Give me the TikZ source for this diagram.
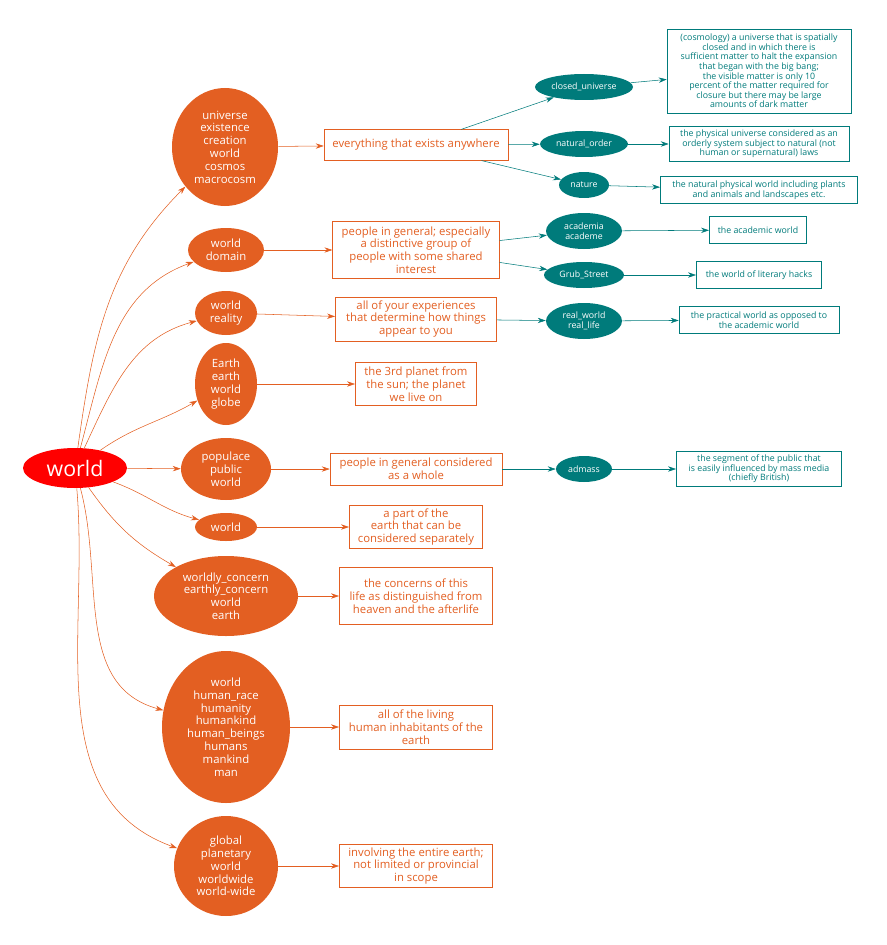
\documentclass[tikz,border=0pt]{standalone}
\usepackage{fontspec}
\setmainfont{Open Sans}
\usetikzlibrary{shapes.geometric,arrows.meta}
\definecolor{org}{HTML}{E35F22}
\definecolor{tl}{HTML}{007B7B}
\tikzset{
 syn/.style={ellipse,fill=org,text=white,inner sep=0pt,align=center,font=\fontsize{8.5}{9.6}\selectfont},
 gl/.style={draw=org,fill=white,text=org,align=center,inner sep=0pt,font=\fontsize{8.5}{9.6}\selectfont},
 ts/.style={ellipse,fill=tl,text=white,inner sep=0pt,align=center,font=\fontsize{6.6}{7.6}\selectfont},
 tb/.style={draw=tl,fill=white,text=tl,align=center,inner sep=0pt,font=\fontsize{6.6}{7.2}\selectfont},
 oe/.style={draw=org,-{Stealth[length=6pt,width=4pt]}},
 te/.style={draw=tl,-{Stealth[length=6pt,width=4pt]}},
}
\begin{document}
\begin{tikzpicture}[x=0.75pt,y=-0.75pt]
\useasboundingbox (0,0) rectangle (886,945);
\newcommand\E[5]{\node[#1,minimum width=#3*0.75pt,minimum height=#4*0.75pt] (#2) at #5}
\node[ellipse,fill=red,text=white,minimum width=78pt,minimum height=30pt,inner sep=0pt,font=\fontsize{16}{18}\selectfont] (w) at (75,468) {world};
\E{syn}{s1}{106}{118}{(225,147)} {universe\\existence\\creation\\world\\cosmos\\macrocosm};
\E{syn}{s2}{76}{44}{(226,250)} {world\\domain};
\E{syn}{s3}{62}{44}{(226,313)} {world\\reality};
\E{syn}{s4}{62}{82}{(226,384)} {Earth\\earth\\world\\globe};
\E{syn}{s5}{90}{62}{(226,469)} {populace\\public\\world};
\E{syn}{s6}{62}{28}{(226,527)} {world};
\E{syn}{s7}{144}{80}{(226,596)} {worldly\_concern\\earthly\_concern\\world\\earth};
\E{syn}{s8}{128}{152}{(226,727)} {world\\human\_race\\humanity\\humankind\\human\_beings\\humans\\mankind\\man};
\E{syn}{s9}{104}{100}{(226,866)} {global\\planetary\\world\\worldwide\\world-wide};
\node[gl,minimum width=138pt,minimum height=23pt] (g1) at (416,145) {everything that exists anywhere};
\node[gl,minimum width=125pt,minimum height=43pt] (g2) at (416,250) {people in general; especially\\a distinctive group of\\people with some shared\\interest};
\node[gl,minimum width=121pt,minimum height=33pt] (g3) at (416,319) {all of your experiences\\that determine how things\\appear to you};
\node[gl,minimum width=91pt,minimum height=32pt] (g4) at (416,384) {the 3rd planet from\\the sun; the planet\\we live on};
\node[gl,minimum width=129pt,minimum height=24pt] (g5) at (416,469) {people in general considered\\as a whole};
\node[gl,minimum width=100pt,minimum height=32pt] (g6) at (416,527) {a part of the\\earth that can be\\considered separately};
\node[gl,minimum width=115pt,minimum height=43pt] (g7) at (416,596) {the concerns of this\\life as distinguished from\\heaven and the afterlife};
\node[gl,minimum width=115pt,minimum height=33pt] (g8) at (416,727) {all of the living\\human inhabitants of the\\earth};
\node[gl,minimum width=115pt,minimum height=32pt] (g9) at (416,866) {involving the entire earth;\\not limited or provincial\\in scope};
\E{ts}{c1}{98}{26}{(584,87)} {closed\_universe};
\E{ts}{c2}{88}{26}{(584,144)} {natural\_order};
\E{ts}{c3}{50}{26}{(584,185)} {nature};
\E{ts}{c4}{76}{36}{(584,231)} {academia\\academe};
\E{ts}{c5}{80}{26}{(584,275)} {Grub\_Street};
\E{ts}{c6}{76}{36}{(584,321)} {real\_world\\real\_life};
\E{ts}{c7}{56}{26}{(584,469)} {admass};
\node[tb,minimum width=138pt,minimum height=63pt] (b1) at (759,71) {(cosmology) a universe that is spatially\\closed and in which there is\\sufficient matter to halt the expansion\\that began with the big bang;\\the visible matter is only 10\\percent of the matter required for\\closure but there may be large\\amounts of dark matter};
\node[tb,minimum width=135pt,minimum height=26pt] (b2) at (759,144) {the physical universe considered as an\\orderly system subject to natural (not\\human or supernatural) laws};
\node[tb,minimum width=148pt,minimum height=20pt] (b3) at (759,190) {the natural physical world including plants\\and animals and landscapes etc.};
\node[tb,minimum width=73pt,minimum height=20pt] (b4) at (758,230) {the academic world};
\node[tb,minimum width=94pt,minimum height=20pt] (b5) at (759,275) {the world of literary hacks};
\node[tb,minimum width=120pt,minimum height=20pt] (b6) at (759,320) {the practical world as opposed to\\the academic world};
\node[tb,minimum width=124pt,minimum height=26pt] (b7) at (759,469) {the segment of the public that\\is easily influenced by mass media\\(chiefly British)};
\draw[oe] (w) to[out=82,in=225] (s1);
\draw[oe] (w) to[out=75,in=200] (s2);
\draw[oe] (w) to[out=65,in=195] (s3);
\draw[oe] (w) to[out=35,in=210] (s4);
\draw[oe] (w) -- (s5);
\draw[oe] (w) to[out=-20,in=165] (s6);
\draw[oe] (w) to[out=-55,in=150] (s7);
\draw[oe] (w) to[out=-75,in=165] (s8);
\draw[oe] (w) to[out=-85,in=160] (s9);
\foreach \i in {1,...,9} \draw[oe] (s\i) -- (g\i);
\draw[te] (g1) -- (c1); \draw[te] (g1) -- (c2); \draw[te] (g1) -- (c3);
\draw[te] (g2) -- (c4); \draw[te] (g2) -- (c5);
\draw[te] (g3) -- (c6); \draw[te] (g5) -- (c7);
\foreach \i in {1,...,7} \draw[te] (c\i) -- (b\i);
\end{tikzpicture}
\end{document}
